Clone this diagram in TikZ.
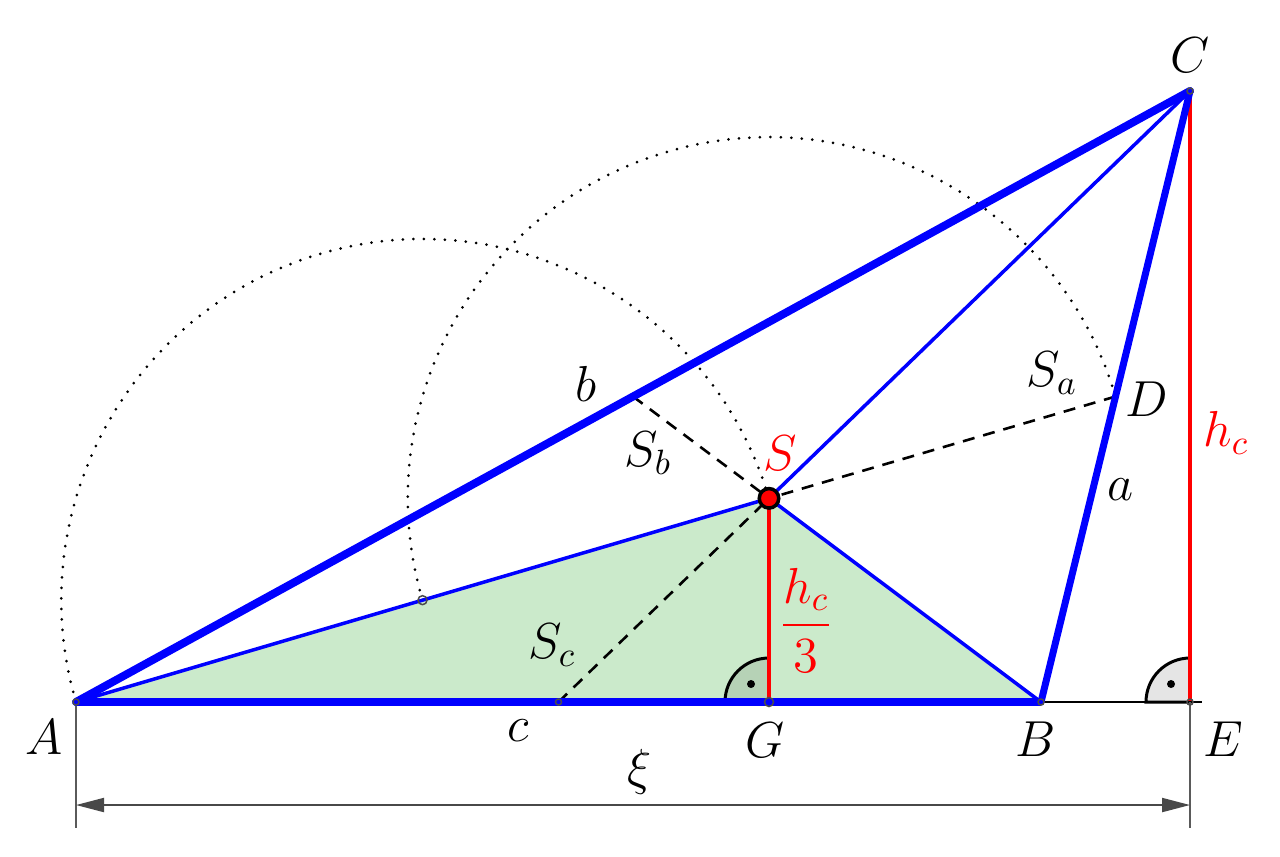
\documentclass[tikz,border=0pt]{standalone}
\usepackage{amsmath}
\usepackage{xcolor}
\usetikzlibrary{arrows.meta, calc}
\definecolor{areacolor}{RGB}{203,234,203}
\definecolor{dimcolor}{RGB}{90,90,90}
\begin{document}
\begin{tikzpicture}[
    font=\Large,
    side/.style={draw=blue, line width=0.08cm},
    median/.style={draw=blue, line width=0.035cm},
    height/.style={draw=red, line width=0.04cm},
    midline/.style={draw=black, line width=0.026cm, dash pattern=on 0.12cm off 0.09cm},
    circlearc/.style={draw=black, line width=0.03cm, line cap=round, dash pattern=on 0cm off 0.105cm},
    dimline/.style={draw=dimcolor, line width=0.025cm},
    dimarrow/.style={{Triangle[length=0.28cm,width=0.14cm]}-{Triangle[length=0.28cm,width=0.14cm]}, draw=dimcolor!80!black, line width=0.02cm},
    rightangle/.style={draw=black, line width=0.03cm, fill=black, fill opacity=0.1},
    pointdot/.style={circle, draw=black!70, line width=0.015cm, inner sep=0, minimum size=0.06cm},
    centerdot/.style={circle, draw=black, fill=red, line width=0.035cm, inner sep=0, minimum size=0.195cm},
    angledot/.style={circle, fill=black, inner sep=0, minimum size=0.08cm},
    lbl/.style={inner sep=0}
]
    \useasboundingbox (-0.76,-1.54) rectangle (12.04,7.02);

    % Vertices and feet
    \coordinate (A) at (0,0);
    \coordinate (B) at (9.65,0);
    \coordinate (C) at (11.14,6.11);
    \coordinate (S) at (6.93,2.037);
    \coordinate (G) at (6.93,0);
    \coordinate (E) at (11.14,0);
    \coordinate (Eend) at (11.26,0);

    % Midpoints
    \coordinate (D) at ($(B)!0.5!(C)$);
    \coordinate (midb) at ($(A)!0.5!(C)$);
    \coordinate (midc) at ($(A)!0.5!(B)$);
    \coordinate (midS) at ($(A)!0.5!(S)$);

    % Dimension line
    \coordinate (dimA) at (0,-1.03);
    \coordinate (dimE) at (11.14,-1.03);
    \coordinate (extA) at (0,-1.26);
    \coordinate (extE) at (11.14,-1.26);

    % Triangle ABS
    \fill[areacolor] (A) -- (B) -- (S) -- cycle;

    % Arcs
    \draw[circlearc] (A) arc[start angle=196.38, end angle=16.38, radius=3.6115];
    \draw[circlearc] (midS) arc[start angle=196.38, end angle=16.38, radius=3.6115];

    % Right angles
    \draw[rightangle] ($(G)+(-0.44,0)$) arc[start angle=180, end angle=90, radius=0.44] -- (G) -- cycle;
    \draw[rightangle] ($(E)+(-0.44,0)$) arc[start angle=180, end angle=90, radius=0.44] -- (E) -- cycle;
    \node[angledot] (dotG) at (6.75,0.18) {};
    \node[angledot] (dotE) at (10.95,0.18) {};

    % Medians
    \draw[midline] (D) -- (S);
    \draw[midline] (midb) -- (S);
    \draw[midline] (midc) -- (S);
    \draw[median] (A) -- (S);
    \draw[median] (B) -- (S);
    \draw[median] (C) -- (S);

    % Heights
    \draw[height] (S) -- (G);
    \draw[height] (C) -- (E);

    % Base and dimension
    \draw[line width=0.02cm] (B) -- (Eend);
    \draw[dimline] (A) -- (extA);
    \draw[dimline] (E) -- (extE);
    \draw[dimarrow] (dimA) -- (dimE);

    % Sides
    \draw[side] (A) -- (B);
    \draw[side, line cap=round] (A) -- (C);
    \draw[side, line width=0.07cm, line cap=round] (B) -- (C);

    % Points
    \node[pointdot] (pA) at (A) {};
    \node[pointdot] (pB) at (B) {};
    \node[pointdot] (pC) at (C) {};
    \node[pointdot] (pE) at (E) {};
    \node[pointdot] (pc) at (midc) {};
    \node[pointdot, minimum size=0.09cm] (pG) at (G) {};
    \node[pointdot, minimum size=0.09cm] (pM) at (midS) {};
    \node[centerdot] (pS) at (S) {};

    % Labels
    \node[lbl] (labC) at (11.14,6.47) {$C$};
    \node[lbl] (labA) at (-0.32,-0.35) {$A$};
    \node[lbl] (labG) at (6.89,-0.38) {$G$};
    \node[lbl] (labB) at (9.60,-0.37) {$B$};
    \node[lbl] (labE) at (11.47,-0.37) {$E$};
    \node[lbl] (labc) at (4.42,-0.29) {$c$};
    \node[lbl] (labxi) at (5.64,-0.70) {$\xi$};
    \node[lbl, text=red] (labS) at (7.04,2.49) {$S$};
    \node[lbl] (labSb) at (5.72,2.49) {$S_b$};
    \node[lbl] (labb) at (5.10,3.18) {$b$};
    \node[lbl] (labSa) at (9.76,3.29) {$S_a$};
    \node[lbl] (labD) at (10.71,3.03) {$D$};
    \node[lbl] (laba) at (10.44,2.12) {$a$};
    \node[lbl, text=red] (labh) at (11.50,2.69) {$h_c$};
    \node[lbl] (labSc) at (4.76,0.57) {$S_c$};
    \node[lbl, text=red] (labfrac) at (7.30,0.82) {$\dfrac{h_c}{3}$};
\end{tikzpicture}
\end{document}
